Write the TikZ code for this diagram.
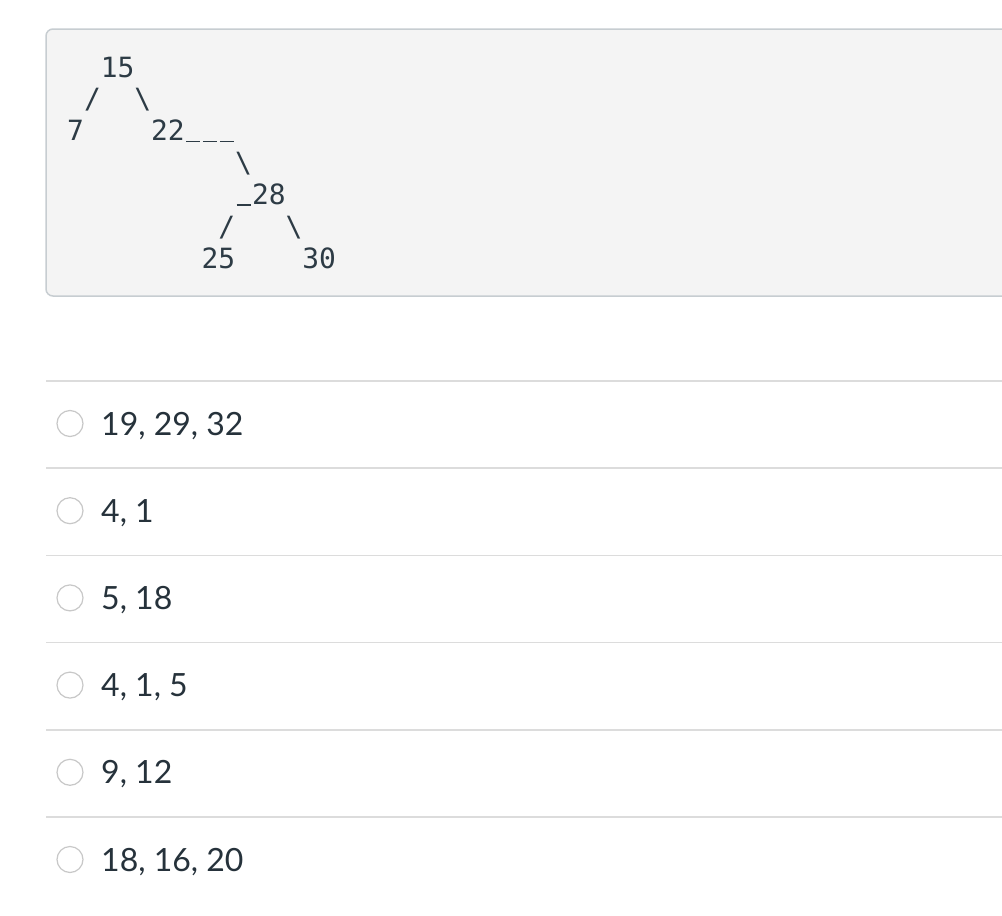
\documentclass[tikz,border=0pt]{standalone}
\usepackage{fontspec}
\setmainfont{Lato}
\newfontfamily\monofont{DejaVu Sans Mono}
\definecolor{txt}{HTML}{2D3B45}
\definecolor{boxfill}{HTML}{F4F4F4}
\definecolor{boxline}{HTML}{C7CDD1}
\definecolor{sepline}{HTML}{DCDCDC}
\definecolor{radioline}{HTML}{C8C8C8}
\tikzset{
  code/.style={inner sep=0pt, anchor=base west, text=txt, font=\monofont\fontsize{27.9}{32}\selectfont},
  opt/.style={inner sep=0pt, anchor=base west, text=txt!85!black, font=\fontsize{32}{38}\selectfont},
  radio/.style={circle, draw=radioline, line width=1.2pt, fill=white, minimum size=26pt, inner sep=0pt},
  sep/.style={draw=sepline, line width=1.6pt},
  codebox/.style={draw=boxline, fill=boxfill, line width=1.5pt, rounded corners=7pt}
}
% an underscore cell with small gaps, as in the reference's monospace font
\newcommand\us{\makebox[16.8pt][c]{\rule[-1.6pt]{14pt}{1.9pt}}}
\newcommand\codeat[4]{\node[code] (#1) at ({67+#2*16.8},{77+#3*31.9}) {#4};}
\begin{document}
\begin{tikzpicture}[x=1pt,y=-1pt]
\clip (0,0) rectangle (1002,916);
\fill[white] (0,0) rectangle (1002,916);
% code block
\path[codebox] (1020,29) -- (46,29) -- (46,296) -- (1020,296) -- cycle;
\codeat{n15}{2}{0}{15}
\codeat{s1}{1}{1}{/}
\codeat{s2}{4}{1}{\textbackslash}
\codeat{n7}{0}{2}{7}
\codeat{n22}{5}{2}{22\us\us\us}
\codeat{s3}{10}{3}{\textbackslash}
\codeat{n28}{10}{4}{\us28}
\codeat{s4}{9}{5}{/}
\codeat{s5}{13}{5}{\textbackslash}
\codeat{n25}{8}{6}{25}
\codeat{n30}{14}{6}{30}
% options
\foreach \i/\t in {0/{19, 29, 32},1/{4, 1},2/{5, 18},3/{4, 1, 5},4/{9, 12},5/{18, 16, 20}}{
  \pgfmathsetmacro\yy{381+87.2*\i}
  \coordinate (l\i a) at (46,\yy);
  \coordinate (l\i b) at (1002,\yy);
  \draw[sep] (l\i a) -- (l\i b);
  \node[radio] (r\i) at (70,\yy+42.5) {};
  \node[opt] (o\i) at (101,\yy+54) {\t};
}
\end{tikzpicture}
\end{document}
